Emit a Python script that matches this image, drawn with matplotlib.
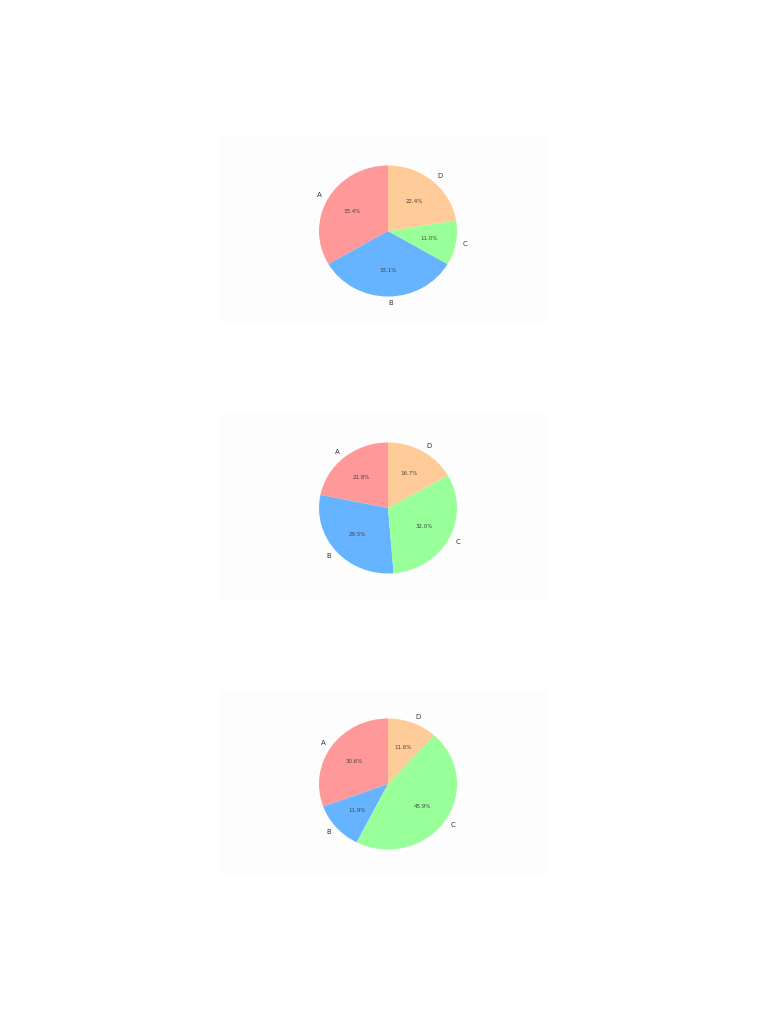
import matplotlib.pyplot as plt

# Données des trois camemberts
labels = ['A', 'B', 'C', 'D']
values_1 = [33.4, 33.1, 11.0, 22.4]
values_2 = [21.8, 29.5, 32.0, 16.7]
values_3 = [30.6, 11.9, 45.9, 11.6]
colors = ['#ff9999', '#66b3ff', '#99ff99', '#ffcc99']

fig = plt.figure(figsize=(7.68, 10.24), dpi=100)

box_tops = [137, 414, 690]   # haut de chaque cadre, en pixels
box_h = 185
box_left, box_w = 219, 329
cx, cy_off = 388, 94          # centre du camembert
rx, ry = 69, 65.5             # rayon en pixels

for top, vals in zip(box_tops, [values_1, values_2, values_3]):
    ax = fig.add_axes([box_left / 768, 1 - (top + box_h) / 1024, box_w / 768, box_h / 1024])
    ax.set_facecolor('#fdfdfd')
    wedges, texts, autotexts = ax.pie(vals, labels=labels, colors=colors, autopct='%1.1f%%',
                                      startangle=90, frame=True)
    for t in texts:
        t.set_fontsize(5)
        t.set_color('#333333')
    for t in autotexts:
        t.set_fontsize(4)
        t.set_color('#444444')
    ax.set_aspect('auto')
    ax.set_xlim(-(cx - box_left) / rx, (box_left + box_w - cx) / rx)
    ax.set_ylim(-(box_h - cy_off) / ry, cy_off / ry)
    ax.set_xticks([])
    ax.set_yticks([])
    for s in ax.spines.values():
        s.set_visible(False)

fig.savefig('out.png', dpi=100)
